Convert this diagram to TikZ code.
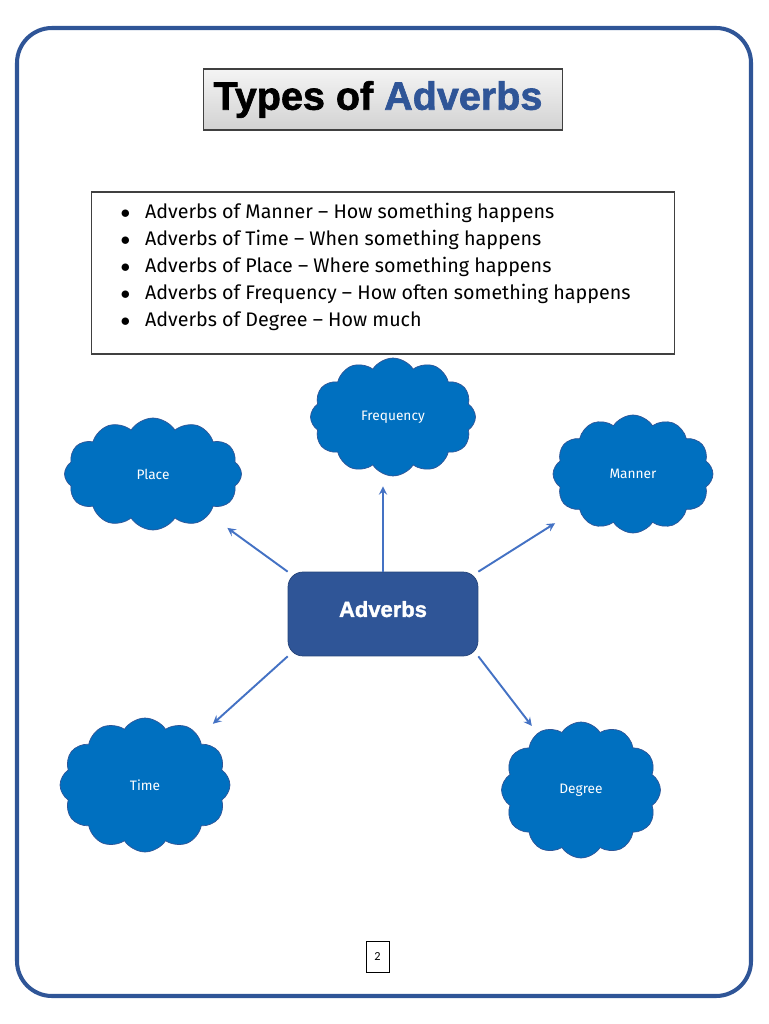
\documentclass[tikz,border=0pt]{standalone}
\usepackage{fontspec}
\setmainfont{Fira Sans}
\newfontfamily\headfont[BoldFeatures={FakeBold=1.6}]{Liberation Sans}
\newfontfamily\pagefont{Carlito}
\usetikzlibrary{shapes.symbols}
\definecolor{frame-blue}{HTML}{2F5597}
\definecolor{cloud-blue}{HTML}{0070C0}
\definecolor{arrow-blue}{HTML}{4472C4}
\definecolor{title-top}{HTML}{F4F4F4}
\definecolor{title-bottom}{HTML}{D2D2D2}
\definecolor{box-line}{HTML}{404040}

\begin{document}
\begin{tikzpicture}[x=0.02cm, y=-0.02cm,
        every node/.style={font=\small},
        bubble/.style={cloud, cloud puffs=12, cloud puff arc=115,
            draw=frame-blue, fill=cloud-blue, text=white,
            font=\fontsize{7.8}{9}\selectfont},
        link/.style={->, >=stealth, line width=1.1pt, arrow-blue}]
      \useasboundingbox (0,0) rectangle (768,1024);
      % page frame
      \draw[frame-blue, line width=2.3pt, rounded corners=0.7cm]
            (17,28) rectangle (751,996);
      % heading
      \node[draw=box-line, line width=0.6pt, top color=title-top,
            bottom color=title-bottom, minimum width=7.2cm,
            minimum height=1.22cm, font=\headfont\bfseries\fontsize{22.5}{26}\selectfont]
            (title) at (383,99.5)
            {\raisebox{-0.17cm}{Types of \textcolor{frame-blue}{Adverbs}}\hspace*{0.2cm}\mbox{}};
      % list of the five types
      \node[draw=box-line, line width=0.6pt, minimum width=11.68cm,
            minimum height=3.24cm, inner sep=0pt,
            font=\fontsize{11.2}{15.3}\selectfont]
            (types) at (383,273)
            {\begin{tabular}{@{}c@{\hspace{0.3cm}}l@{}}
             $\bullet$ & Adverbs of Manner -- How something happens\\
             $\bullet$ & Adverbs of Time -- When something happens\\
             $\bullet$ & Adverbs of Place -- Where something happens\\
             $\bullet$ & Adverbs of Frequency -- How often something happens\\
             $\bullet$ & Adverbs of Degree -- How much\\[0.24cm]
             \end{tabular}\hspace*{0.3cm}\mbox{}};
      % centre
      \node[draw=frame-blue!80!black, fill=frame-blue, rounded corners=0.3cm,
            minimum width=3.8cm, minimum height=1.68cm, text=white,
            font=\headfont\bfseries\fontsize{12.5}{15}\selectfont]
            (adverbs) at (383,614) {\raisebox{0.2cm}{Adverbs}};
      % clouds
      \node[bubble, minimum width=3.3cm, minimum height=2cm]
            (freq) at (393,417) {Frequency};
      \node[bubble, minimum width=3.54cm, minimum height=2.24cm]
            (place) at (153,474) {Place};
      \node[bubble, minimum width=3.2cm, minimum height=2.36cm]
            (manner) at (633,474) {Manner};
      \node[bubble, minimum width=3.4cm, minimum height=2.68cm]
            (time) at (145,785) {Time};
      \node[bubble, minimum width=3.18cm, minimum height=2.72cm]
            (degree) at (581,790) {Degree};
      \draw[link, shorten >=0.2cm] (adverbs.north) -- (adverbs.north |- freq.south);
      \draw[link, shorten >=0.45cm] (adverbs.north west) -- (place);
      \draw[link, shorten >=0.5cm] (adverbs.north east) -- (manner);
      \draw[link, shorten >=0.38cm] (adverbs.south west) -- (time);
      \draw[link, shorten >=0.18cm] (adverbs.south east) -- (degree);
      % page number
      \node[draw, line width=0.5pt, minimum width=0.46cm, minimum height=0.62cm,
            font=\pagefont\fontsize{7}{8}\selectfont]
            (page) at (377.5,956.5) {2};
    \end{tikzpicture}
\end{document}
